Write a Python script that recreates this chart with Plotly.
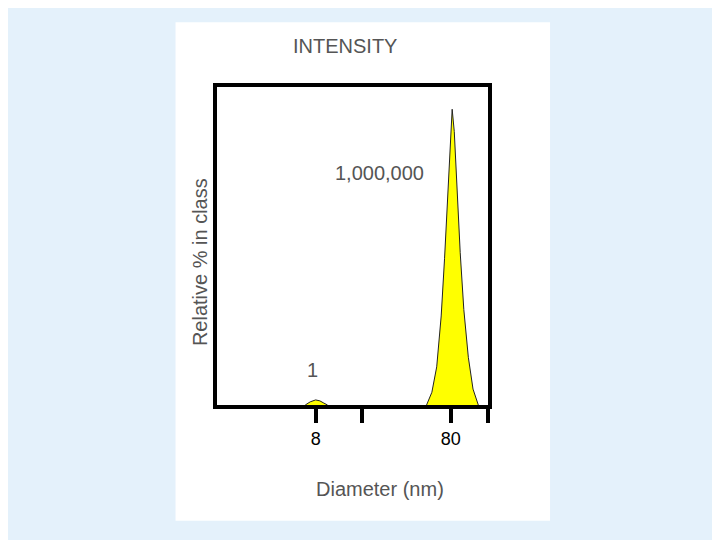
import plotly.graph_objects as go

# diameter (nm) and relative % for the two populations
big_d = [53, 58, 63, 68, 72, 76, 79, 82, 85, 89, 94, 100, 108, 117, 128]
big_pct = [0, 4, 12, 28, 46, 66, 84, 93, 86, 68, 48, 30, 15, 5, 0]
small_d = [6.7, 7.3, 8.0, 8.6, 9.2, 9.8]
small_pct = [0, 1.0, 1.6, 1.3, 0.6, 0]
tick_vals = [8, 17.6, 80, 151]
tick_text = ["8", "", "80", ""]

fig = go.Figure()
for xs, ys in [(small_d, small_pct), (big_d, big_pct)]:
    fig.add_trace(go.Scatter(x=xs, y=ys, mode="lines", fill="tozeroy",
                             fillcolor="#ffff00", line=dict(color="#222", width=1)))

gray = "#555"


def label(text, x, y, angle=0):
    return dict(text=text, x=x, y=y, xref="paper", yref="paper", xanchor="center",
                yanchor="middle", textangle=angle, showarrow=False,
                font=dict(size=20, color=gray))


fig.update_layout(
    width=720, height=540, showlegend=False,
    margin=dict(l=209, r=240, t=79, b=143),
    paper_bgcolor="#e4f1fb", plot_bgcolor="white",
    font=dict(family="Liberation Sans, Arial", color=gray),
    shapes=[dict(type="rect", xref="paper", yref="paper", x0=-0.153, x1=1.229,
                 y0=-0.364, y1=1.204, fillcolor="white", line_width=0, layer="below")],
    annotations=[
        label("INTENSITY", 0.473, 1.13),
        label("Relative % in class", -0.062, 0.45, -90),
        label("Diameter (nm)", 0.603, -0.265),
        label("1,000,000", 0.6, 0.73),
        label("1", 0.353, 0.11),
    ],
)
fig.update_xaxes(type="log", range=[0.173, 2.179], showgrid=False, zeroline=False,
                 showline=True, linecolor="black", linewidth=4, mirror=True,
                 tickvals=tick_vals, ticktext=tick_text, ticks="outside",
                 ticklen=14, tickwidth=4, tickcolor="black",
                 tickfont=dict(size=18, color="black"))
fig.update_yaxes(range=[0, 100], showgrid=False, zeroline=False, showticklabels=False,
                 showline=True, linecolor="black", linewidth=4, mirror=True)

fig.write_html("out.html")
